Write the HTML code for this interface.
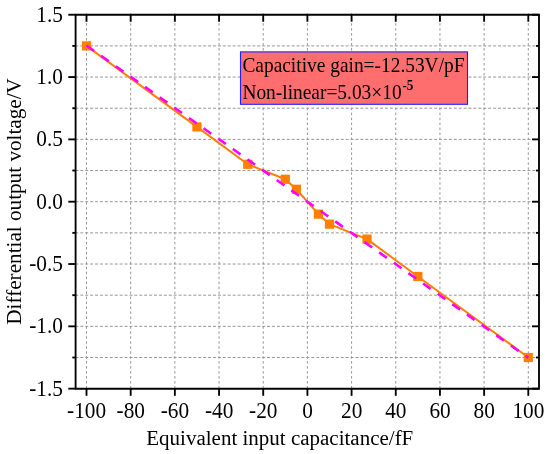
<!DOCTYPE html>
<html><head><meta charset="utf-8"><style>
html,body{margin:0;padding:0;background:#fff;}
svg{display:block;}
text{font-family:"Liberation Serif","Times New Roman",serif;fill:#000;}
</style></head><body>
<svg width="550" height="454" viewBox="0 0 550 454">
<rect width="550" height="454" fill="#fff"/>
<g stroke="#969696" stroke-width="1" stroke-dasharray="2.5 2.47" fill="none">
<line x1="86.50" y1="13.26" x2="86.50" y2="388.70"/>
<line x1="130.68" y1="13.26" x2="130.68" y2="388.70"/>
<line x1="174.86" y1="13.26" x2="174.86" y2="388.70"/>
<line x1="219.04" y1="13.26" x2="219.04" y2="388.70"/>
<line x1="263.22" y1="13.26" x2="263.22" y2="388.70"/>
<line x1="307.40" y1="13.26" x2="307.40" y2="388.70"/>
<line x1="351.58" y1="13.26" x2="351.58" y2="388.70"/>
<line x1="395.76" y1="13.26" x2="395.76" y2="388.70"/>
<line x1="439.94" y1="13.26" x2="439.94" y2="388.70"/>
<line x1="484.12" y1="13.26" x2="484.12" y2="388.70"/>
<line x1="528.30" y1="13.26" x2="528.30" y2="388.70"/>
</g>
<g stroke="#989898" stroke-width="1" stroke-dasharray="3 1.914" fill="none">
<line x1="75.39" y1="45.90" x2="538.10" y2="45.90"/>
<line x1="75.39" y1="77.06" x2="538.10" y2="77.06"/>
<line x1="75.39" y1="108.22" x2="538.10" y2="108.22"/>
<line x1="75.39" y1="139.38" x2="538.10" y2="139.38"/>
<line x1="75.39" y1="170.54" x2="538.10" y2="170.54"/>
<line x1="75.39" y1="201.70" x2="538.10" y2="201.70"/>
<line x1="75.39" y1="232.86" x2="538.10" y2="232.86"/>
<line x1="75.39" y1="264.02" x2="538.10" y2="264.02"/>
<line x1="75.39" y1="295.18" x2="538.10" y2="295.18"/>
<line x1="75.39" y1="326.34" x2="538.10" y2="326.34"/>
<line x1="75.39" y1="357.50" x2="538.10" y2="357.50"/>
</g>
<rect x="240.5" y="51.9" width="227" height="52.4" fill="#ff6e6e" stroke="#2020ff" stroke-width="1.1"/>
<g font-size="19.4">
<text transform="translate(242.4,71.8) scale(1,1.08)">Capacitive gain=-12.53V/pF</text>
<text transform="translate(242.4,98.8) scale(1,1.08)">Non-linear=5.03×10<tspan font-size="13.2" dx="0.8" dy="-7.9" font-weight="bold">-5</tspan></text>
</g>
<polyline points="86.50,45.90 196.95,126.92 247.76,164.31 285.31,179.26 296.35,189.24 318.44,214.16 329.49,224.14 367.04,239.09 417.85,276.48 528.30,357.50" fill="none" stroke="#ff7f00" stroke-width="2" stroke-linejoin="round"/>
<g fill="#ff7f00">
<rect x="81.90" y="41.30" width="9.2" height="9.2"/>
<rect x="192.35" y="122.32" width="9.2" height="9.2"/>
<rect x="243.16" y="159.71" width="9.2" height="9.2"/>
<rect x="280.71" y="174.66" width="9.2" height="9.2"/>
<rect x="291.75" y="184.64" width="9.2" height="9.2"/>
<rect x="313.84" y="209.56" width="9.2" height="9.2"/>
<rect x="324.89" y="219.54" width="9.2" height="9.2"/>
<rect x="362.44" y="234.49" width="9.2" height="9.2"/>
<rect x="413.25" y="271.88" width="9.2" height="9.2"/>
<rect x="523.70" y="352.90" width="9.2" height="9.2"/>
</g>
<g stroke="#ff00ff" stroke-width="2.6" stroke-dasharray="9.4 8.52" fill="none">
<line x1="86.50" y1="45.53" x2="528.30" y2="357.87"/>
</g>
<g stroke="#000" stroke-width="1.85" fill="none">
<line x1="86.50" y1="388.70" x2="86.50" y2="395.80"/>
<line x1="86.50" y1="14.75" x2="86.50" y2="21.75"/>
<line x1="130.68" y1="388.70" x2="130.68" y2="395.80"/>
<line x1="130.68" y1="14.75" x2="130.68" y2="21.75"/>
<line x1="174.86" y1="388.70" x2="174.86" y2="395.80"/>
<line x1="174.86" y1="14.75" x2="174.86" y2="21.75"/>
<line x1="219.04" y1="388.70" x2="219.04" y2="395.80"/>
<line x1="219.04" y1="14.75" x2="219.04" y2="21.75"/>
<line x1="263.22" y1="388.70" x2="263.22" y2="395.80"/>
<line x1="263.22" y1="14.75" x2="263.22" y2="21.75"/>
<line x1="307.40" y1="388.70" x2="307.40" y2="395.80"/>
<line x1="307.40" y1="14.75" x2="307.40" y2="21.75"/>
<line x1="351.58" y1="388.70" x2="351.58" y2="395.80"/>
<line x1="351.58" y1="14.75" x2="351.58" y2="21.75"/>
<line x1="395.76" y1="388.70" x2="395.76" y2="395.80"/>
<line x1="395.76" y1="14.75" x2="395.76" y2="21.75"/>
<line x1="439.94" y1="388.70" x2="439.94" y2="395.80"/>
<line x1="439.94" y1="14.75" x2="439.94" y2="21.75"/>
<line x1="484.12" y1="388.70" x2="484.12" y2="395.80"/>
<line x1="484.12" y1="14.75" x2="484.12" y2="21.75"/>
<line x1="528.30" y1="388.70" x2="528.30" y2="395.80"/>
<line x1="528.30" y1="14.75" x2="528.30" y2="21.75"/>
<line x1="75.60" y1="14.74" x2="68.30" y2="14.74"/>
<line x1="539.00" y1="14.74" x2="532.00" y2="14.74"/>
<line x1="75.60" y1="45.90" x2="72.30" y2="45.90"/>
<line x1="539.00" y1="45.90" x2="536.00" y2="45.90"/>
<line x1="75.60" y1="77.06" x2="68.30" y2="77.06"/>
<line x1="539.00" y1="77.06" x2="532.00" y2="77.06"/>
<line x1="75.60" y1="108.22" x2="72.30" y2="108.22"/>
<line x1="539.00" y1="108.22" x2="536.00" y2="108.22"/>
<line x1="75.60" y1="139.38" x2="68.30" y2="139.38"/>
<line x1="539.00" y1="139.38" x2="532.00" y2="139.38"/>
<line x1="75.60" y1="170.54" x2="72.30" y2="170.54"/>
<line x1="539.00" y1="170.54" x2="536.00" y2="170.54"/>
<line x1="75.60" y1="201.70" x2="68.30" y2="201.70"/>
<line x1="539.00" y1="201.70" x2="532.00" y2="201.70"/>
<line x1="75.60" y1="232.86" x2="72.30" y2="232.86"/>
<line x1="539.00" y1="232.86" x2="536.00" y2="232.86"/>
<line x1="75.60" y1="264.02" x2="68.30" y2="264.02"/>
<line x1="539.00" y1="264.02" x2="532.00" y2="264.02"/>
<line x1="75.60" y1="295.18" x2="72.30" y2="295.18"/>
<line x1="539.00" y1="295.18" x2="536.00" y2="295.18"/>
<line x1="75.60" y1="326.34" x2="68.30" y2="326.34"/>
<line x1="539.00" y1="326.34" x2="532.00" y2="326.34"/>
<line x1="75.60" y1="357.50" x2="72.30" y2="357.50"/>
<line x1="539.00" y1="357.50" x2="536.00" y2="357.50"/>
<line x1="75.60" y1="388.66" x2="68.30" y2="388.66"/>
<line x1="539.00" y1="388.66" x2="532.00" y2="388.66"/>
<path d="M75.60,14.75 H539.00 V388.70 H75.60 Z"/>
</g>
<g font-size="21.33" text-anchor="middle">
<text transform="translate(86.60,417.9) scale(1,1.06)">-100</text>
<text transform="translate(130.78,417.9) scale(1,1.06)">-80</text>
<text transform="translate(174.96,417.9) scale(1,1.06)">-60</text>
<text transform="translate(219.14,417.9) scale(1,1.06)">-40</text>
<text transform="translate(263.32,417.9) scale(1,1.06)">-20</text>
<text transform="translate(307.50,417.9) scale(1,1.06)">0</text>
<text transform="translate(351.68,417.9) scale(1,1.06)">20</text>
<text transform="translate(395.86,417.9) scale(1,1.06)">40</text>
<text transform="translate(440.04,417.9) scale(1,1.06)">60</text>
<text transform="translate(484.22,417.9) scale(1,1.06)">80</text>
<text transform="translate(528.40,417.9) scale(1,1.06)">100</text>
</g>
<g font-size="21.33" text-anchor="end">
<text transform="translate(63.0,21.64) scale(1,1.06)">1.5</text>
<text transform="translate(63.0,83.96) scale(1,1.06)">1.0</text>
<text transform="translate(63.0,146.28) scale(1,1.06)">0.5</text>
<text transform="translate(63.0,208.60) scale(1,1.06)">0.0</text>
<text transform="translate(63.0,270.92) scale(1,1.06)">-0.5</text>
<text transform="translate(63.0,333.24) scale(1,1.06)">-1.0</text>
<text transform="translate(63.0,395.56) scale(1,1.06)">-1.5</text>
</g>
<text transform="translate(279.8,444.9) scale(0.985,1)" font-size="21.33" text-anchor="middle">Equivalent input capacitance/fF</text>
<text transform="translate(21.2,201.4) rotate(-90) scale(0.993,1)" font-size="21.33" text-anchor="middle">Differential output voltage/V</text>
</svg>
</body></html>
